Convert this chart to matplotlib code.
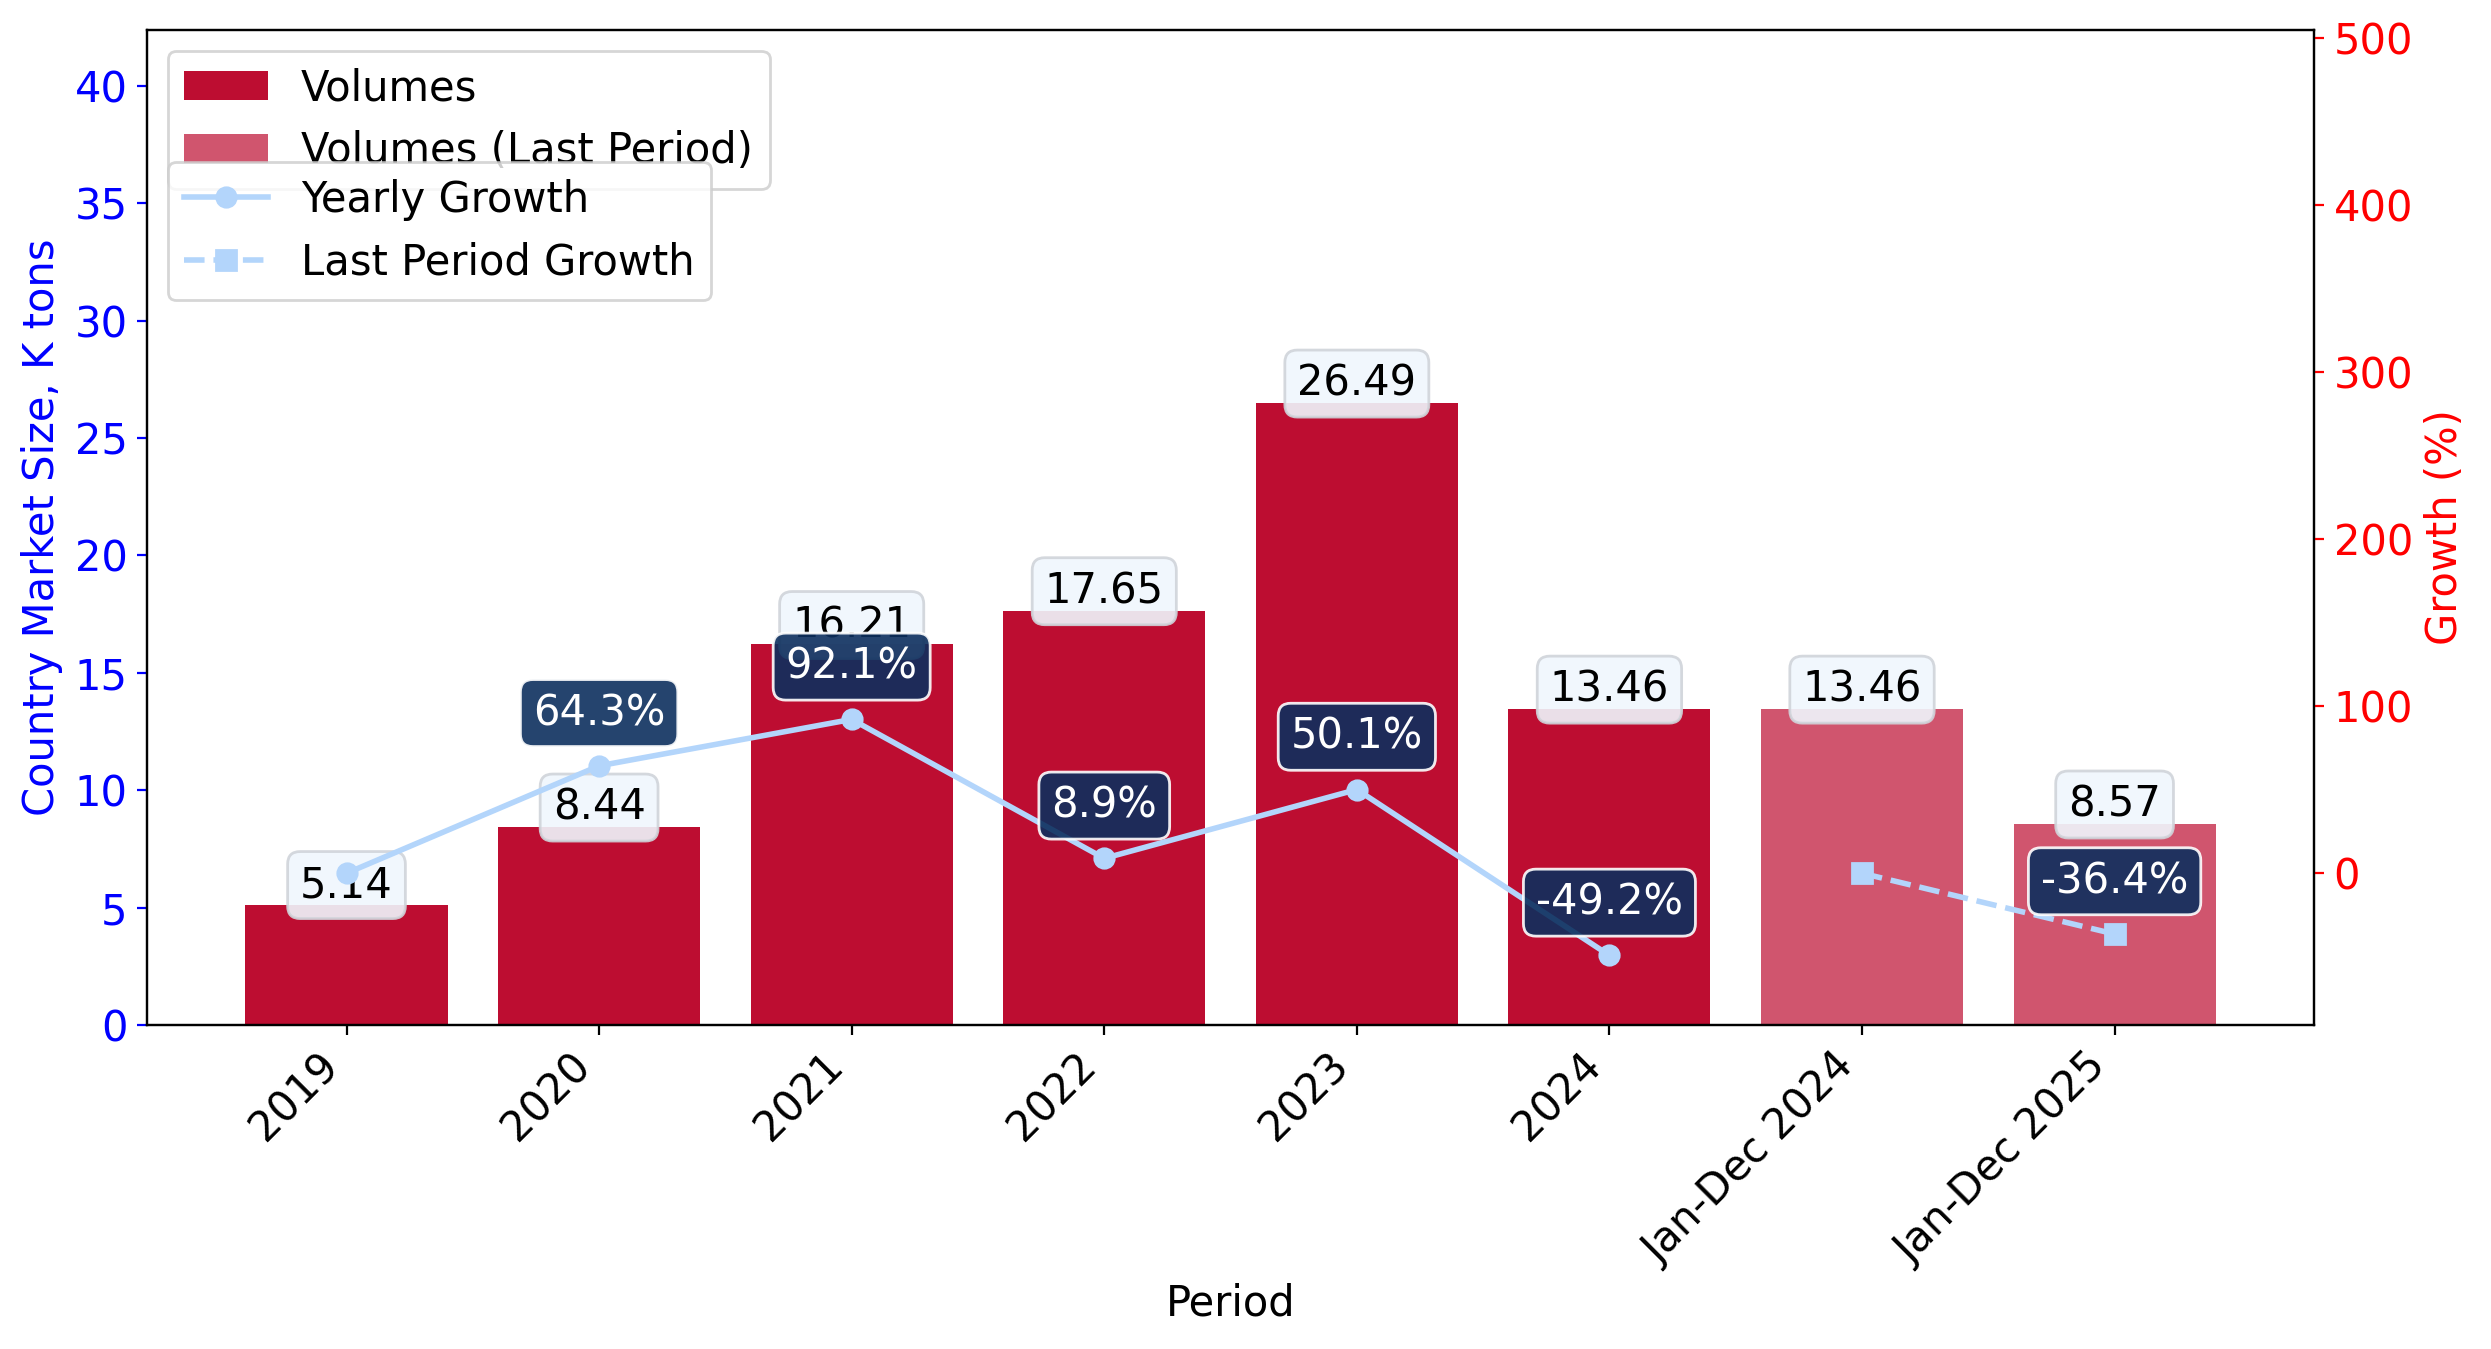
import matplotlib
matplotlib.use("Agg")
import matplotlib.pyplot as plt
import numpy as np

# data
periods = ["2019", "2020", "2021", "2022", "2023", "2024", "Jan-Dec 2024", "Jan-Dec 2025"]
volumes = [5.14, 8.44, 16.21, 17.65, 26.49, 13.46, 13.46, 8.57]
is_last_period = [False, False, False, False, False, False, True, True]
yearly_growth = [0.0, 64.3, 92.1, 8.9, 50.1, -49.2]
last_growth = [0.0, -36.4]

BAR_COLOR = "#bd0d31"
LINE_COLOR = "#b3d5fb"
FS = 15

plt.rcParams["font.size"] = FS

fig, ax1 = plt.subplots(figsize=(2491 / 200, 1349 / 200), dpi=200)
fig.subplots_adjust(left=0.059, right=0.929, top=0.978, bottom=0.24)

x = np.arange(len(periods))
yearly_idx = [i for i, f in enumerate(is_last_period) if not f]
last_idx = [i for i, f in enumerate(is_last_period) if f]

ax1.bar([x[i] for i in yearly_idx], [volumes[i] for i in yearly_idx],
        color=BAR_COLOR, width=0.8, label="Volumes")
ax1.bar([x[i] for i in last_idx], [volumes[i] for i in last_idx],
        color=BAR_COLOR, alpha=0.7, width=0.8, label="Volumes (Last Period)")

# value labels on top of the bars
for i, v in enumerate(volumes):
    ax1.annotate(f"{v:.2f}", (x[i], v), xytext=(0, 7), textcoords="offset points",
                 ha="center", va="center", fontsize=FS, color="black",
                 bbox=dict(boxstyle="round,pad=0.3", facecolor="#f0f7fd",
                           edgecolor="#d0d4da", alpha=0.9))

ax1.set_ylim(0, max(volumes) * 1.6)
ax1.set_ylabel("Country Market Size, K tons", color="blue")
ax1.tick_params(axis="y", colors="blue")
ax1.set_xlabel("Period")
ax1.set_xticks(x)
ax1.set_xticklabels(periods, rotation=45, ha="right")

ax2 = ax1.twinx()
ax2.plot(yearly_idx, yearly_growth, color=LINE_COLOR, marker="o", linewidth=2,
         markersize=7, label="Yearly Growth")
ax2.plot(last_idx, last_growth, color=LINE_COLOR, marker="s", linestyle="--",
         linewidth=2, markersize=7, label="Last Period Growth")

# growth labels (first point of each series has no label)
for idx, g in list(zip(yearly_idx, yearly_growth))[1:] + list(zip(last_idx, last_growth))[1:]:
    ax2.annotate(f"{g:.1f}%", (idx, g), xytext=(0, 19), textcoords="offset points",
                 ha="center", va="center", fontsize=FS, color="white",
                 bbox=dict(boxstyle="round,pad=0.3", facecolor="#0d2f5e",
                           edgecolor="white", alpha=0.9))

ax2.set_ylim(-91, 505)
ax2.set_ylabel("Growth (%)", color="red")
ax2.tick_params(axis="y", colors="red")

ax1.legend(loc="upper left")
ax2.legend(loc="upper left", bbox_to_anchor=(0, 0.888))

fig.savefig("out.png", dpi=200)
